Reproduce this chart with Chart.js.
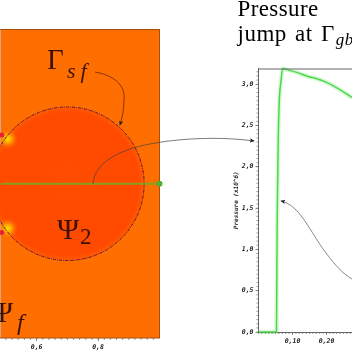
<!DOCTYPE html>
<html>
<head>
<meta charset="utf-8">
<script src="https://cdn.jsdelivr.net/npm/chart.js@4"></script>
<style>
html, body { margin: 0; padding: 0; background: #fff; overflow: hidden; }
#page { position: relative; width: 352px; height: 352px; overflow: hidden; filter: blur(0.3px); }
canvas { position: absolute; top: 0; }
#fieldChart { left: -3px; }
#pressureChart { left: 176px; }
#arrows { position: absolute; left: 0; top: 0; }
.lab { position: absolute; font-family: "Liberation Serif", serif; white-space: nowrap; line-height: 1; }
.dark { color: #3c1206; }
.it { font-style: italic; }
</style>
</head>
<body>
<div id="page">
    <canvas id="fieldChart" width="179" height="352"></canvas>
    <canvas id="pressureChart" width="176" height="352"></canvas>
    <svg id="arrows" width="352" height="352">
        <defs>
            <marker id="head" markerWidth="7" markerHeight="6" refX="6" refY="3" orient="auto">
                <path d="M0,0 L7,3 L0,6 L1.5,3 Z" fill="#222"></path>
            </marker>
        </defs>
        <path d="M95,72 C112,75 126,84 124,100 C124,110 122,118 120,125" fill="none" stroke="#5a1a10" stroke-width="0.7" marker-end="url(#head)"></path>
        <path d="M93,184 C94,168 108,156 133,148 C160,140 210,135 254,141" fill="none" stroke="#444" stroke-width="0.7" marker-end="url(#head)"></path>
        <path d="M352,279 C342,273 336,266 326,253 C310,232 300,205 281,201" fill="none" stroke="#555" stroke-width="0.7" marker-end="url(#head)"></path>
    </svg>
    <span class="lab" style="left:237.5px;top:-3px;font-size:23px;letter-spacing:0.4px;">Pressure</span>
    <span class="lab" style="left:237.5px;top:22px;font-size:23px;letter-spacing:0.5px;word-spacing:2px;">jump at &Gamma;<span class="it" style="font-size:17px;position:relative;top:4px;left:1px;">gb</span></span>
    <span class="lab dark" style="left:47px;top:45px;font-size:29px;">&Gamma;</span>
    <span class="lab dark it" style="left:67px;top:60px;font-size:22px;letter-spacing:5px;">sf</span>
    <span class="lab dark" style="left:57px;top:214px;font-size:30px;">&Psi;</span>
    <span class="lab dark" style="left:80px;top:225px;font-size:23px;">2</span>
    <span class="lab dark" style="left:-9px;top:297px;font-size:30px;">&Psi;</span>
    <span class="lab dark it" style="left:17px;top:310px;font-size:24px;">f</span>
</div>
<script>
// left panel
const fieldTicks = [0.6, 0.8];
const probeX = [0.484, 1.0];
const probeY = [0.5, 0.5];
const grainCentre = [0.7, 0.5];
const grainRadius = 0.25;
const hotSpotX = [0.506, 0.506];
const hotSpotY = [0.645, 0.355];

// right panel
const pressureX = [0, 0.0529, 0.0535, 0.055, 0.0568, 0.058, 0.0612, 0.0662, 0.0712, 0.0809, 0.1103, 0.1485, 0.1691, 0.1985, 0.2368, 0.275];
const pressureY = [0, 0, 0.39, 1.35, 1.96, 2.32, 2.8, 3.04, 3.19, 3.18, 3.146, 3.09, 3.07, 3.025, 2.94, 2.84];
const pressureXTicks = [0.1, 0.2];
const pressureYTicks = [0, 0.5, 1, 1.5, 2, 2.5, 3];

const tickFont = { family: '"DejaVu Sans Mono", monospace', size: 6.5, style: 'italic', weight: 'bold' };
const axisGrey = '#666';

function points(xs, ys) {
    return xs.map((x, i) => ({ x: x, y: ys[i] }));
}

function comma(v, digits) {
    return v.toFixed(digits).replace('.', ',');
}

// small ticks between the labelled ones
function minorTicks(chart, xStep, yStep) {
    const { ctx, chartArea, scales } = chart;
    ctx.save();
    ctx.strokeStyle = axisGrey;
    ctx.lineWidth = 0.7;
    ctx.beginPath();
    for (let v = Math.ceil(scales.x.min / xStep) * xStep; v <= scales.x.max; v += xStep) {
        const px = scales.x.getPixelForValue(v);
        ctx.moveTo(px, chartArea.bottom);
        ctx.lineTo(px, chartArea.bottom + 2);
    }
    if (yStep) {
        for (let v = 0; v <= scales.y.max; v += yStep) {
            const py = scales.y.getPixelForValue(v);
            ctx.moveTo(chartArea.left, py);
            ctx.lineTo(chartArea.left - 2, py);
        }
    }
    ctx.stroke();
    ctx.restore();
}

const fieldPlugin = {
    id: 'field',
    beforeDatasetsDraw(chart) {
        const { ctx, chartArea, scales } = chart;
        const w = chartArea.right - chartArea.left;
        const h = chartArea.bottom - chartArea.top;
        ctx.save();
        ctx.fillStyle = '#ff6e00';
        ctx.fillRect(chartArea.left, chartArea.top, w, h);
        ctx.strokeStyle = '#a8500f';
        ctx.lineWidth = 1;
        ctx.strokeRect(chartArea.left - 1, chartArea.top, w + 1, h);

        const cx = scales.x.getPixelForValue(grainCentre[0]);
        const cy = scales.y.getPixelForValue(grainCentre[1]);
        const r = scales.x.getPixelForValue(grainCentre[0] + grainRadius) - cx;

        const grad = ctx.createRadialGradient(cx, cy, 0, cx, cy, r);
        grad.addColorStop(0, '#ff4c00');
        grad.addColorStop(0.93, '#ff4a00');
        grad.addColorStop(1, '#ff5c00');
        ctx.fillStyle = grad;
        ctx.beginPath();
        ctx.arc(cx, cy, r, 0, Math.PI * 2);
        ctx.fill();

        hotSpotX.forEach((x, i) => {
            const px = scales.x.getPixelForValue(x);
            const py = scales.y.getPixelForValue(hotSpotY[i]);
            const spot = ctx.createRadialGradient(px, py, 0, px, py, 11);
            spot.addColorStop(0, '#ffe000');
            spot.addColorStop(0.35, 'rgba(255,180,0,0.85)');
            spot.addColorStop(1, 'rgba(255,90,0,0)');
            ctx.fillStyle = spot;
            ctx.fillRect(px - 11, py - 11, 22, 22);
            ctx.fillStyle = '#e8203a';
            ctx.beginPath();
            ctx.arc(px - 6, py + (i === 0 ? -4 : 4), 2.5, 0, Math.PI * 2);
            ctx.fill();
        });

        ctx.strokeStyle = '#5a1040';
        ctx.lineWidth = 1;
        ctx.setLineDash([3, 1, 1, 1]);
        ctx.beginPath();
        ctx.arc(cx, cy, r, 0, Math.PI * 2);
        ctx.stroke();
        ctx.restore();
    },
    afterDraw(chart) {
        minorTicks(chart, 0.02, 0);
    }
};

const pressurePlugin = {
    id: 'pressureFrame',
    afterDraw(chart) {
        const { ctx, chartArea } = chart;
        ctx.save();
        ctx.strokeStyle = axisGrey;
        ctx.lineWidth = 1;
        ctx.beginPath();
        ctx.moveTo(chartArea.left, chartArea.top + 0.5);
        ctx.lineTo(chartArea.right, chartArea.top + 0.5);
        ctx.stroke();
        ctx.restore();
        minorTicks(chart, 0.01, 0.05);
    }
};

new Chart(document.getElementById('fieldChart'), {
    type: 'scatter',
    data: {
        datasets: [{
            data: points(probeX, probeY),
            showLine: true,
            borderColor: '#84a01e',
            borderWidth: 2,
            clip: false,
            pointRadius: [0, 3],
            pointBackgroundColor: '#4caf30',
            pointBorderWidth: 0
        }]
    },
    plugins: [fieldPlugin],
    options: {
        responsive: false,
        animation: false,
        layout: { padding: { left: 0, right: 16.5, top: 29.5, bottom: 0 } },
        plugins: { legend: { display: false }, tooltip: { enabled: false } },
        scales: {
            x: {
                type: 'linear',
                min: 0.484,
                max: 1.0,
                afterBuildTicks: (axis) => { axis.ticks = fieldTicks.map(v => ({ value: v })); },
                afterFit: (axis) => { axis.height = 14; },
                border: { display: false },
                grid: { drawOnChartArea: false, color: axisGrey, tickLength: 3, lineWidth: 0.7 },
                ticks: {
                    font: tickFont,
                    color: '#222',
                    padding: 2,
                    maxRotation: 0,
                    autoSkip: false,
                    callback: (v) => comma(v, 1)
                }
            },
            y: { type: 'linear', min: 0, max: 1, display: false }
        }
    }
});

new Chart(document.getElementById('pressureChart'), {
    type: 'scatter',
    data: {
        datasets: [{
            // pale halo round the curve
            data: points(pressureX, pressureY),
            showLine: true,
            cubicInterpolationMode: 'monotone',
            borderColor: 'rgba(120,235,120,0.28)',
            borderWidth: 4.5,
            pointRadius: 0,
            clip: false
        }, {
            data: points(pressureX, pressureY),
            showLine: true,
            cubicInterpolationMode: 'monotone',
            borderColor: '#3cd23c',
            borderWidth: 1.5,
            pointRadius: 0,
            clip: false
        }]
    },
    plugins: [pressurePlugin],
    options: {
        responsive: false,
        animation: false,
        layout: { padding: { left: 57, right: 0, top: 68.5, bottom: 0 } },
        plugins: { legend: { display: false }, tooltip: { enabled: false } },
        scales: {
            x: {
                type: 'linear',
                min: 0,
                max: 0.275,
                afterBuildTicks: (axis) => { axis.ticks = pressureXTicks.map(v => ({ value: v })); },
                afterFit: (axis) => { axis.height = 20; },
                border: { color: axisGrey, width: 1 },
                grid: { drawOnChartArea: false, color: axisGrey, tickLength: 3, lineWidth: 0.7 },
                ticks: {
                    font: tickFont,
                    color: '#222',
                    padding: 2,
                    maxRotation: 0,
                    autoSkip: false,
                    callback: (v) => comma(v, 2)
                }
            },
            y: {
                type: 'linear',
                min: 0,
                max: 3.19,
                afterBuildTicks: (axis) => { axis.ticks = pressureYTicks.map(v => ({ value: v })); },
                afterFit: (axis) => { axis.width = 25.5; },
                border: { color: axisGrey, width: 1 },
                grid: { drawOnChartArea: false, color: axisGrey, tickLength: 3, lineWidth: 0.7 },
                title: {
                    display: true,
                    text: 'Pressure (x10^6)',
                    font: { family: '"DejaVu Sans Mono", monospace', size: 6, style: 'italic', weight: 'bold' },
                    color: '#222',
                    padding: 0
                },
                ticks: {
                    font: tickFont,
                    color: '#222',
                    padding: 2,
                    autoSkip: false,
                    callback: (v) => comma(v, 1)
                }
            }
        }
    }
});
</script>
</body>
</html>
